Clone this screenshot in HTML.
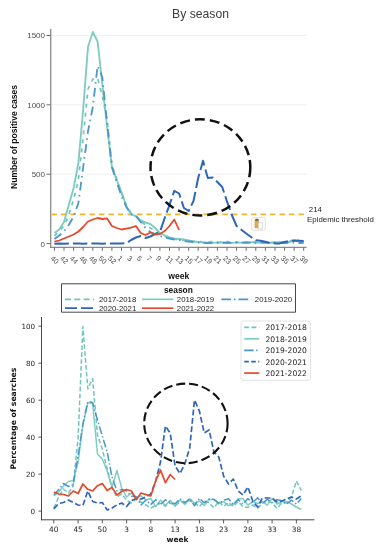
<!DOCTYPE html><html><head><meta charset="utf-8"><style>html,body{margin:0;padding:0;background:#fff;width:380px;height:550px;overflow:hidden}svg{display:block}</style></head><body><svg width="380" height="550" viewBox="0 0 380 550" stroke-linejoin="round">
<rect width="380" height="550" fill="#fff"/>
<text x="200.5" y="18" text-anchor="middle" font-family="Liberation Sans, sans-serif" font-size="12.2" fill="#3c3c3c">By season</text>
<line x1="51" y1="35.5" x2="307" y2="35.5" stroke="#ececec" stroke-width="0.8"/>
<line x1="51" y1="104.8" x2="307" y2="104.8" stroke="#ececec" stroke-width="0.8"/>
<line x1="51" y1="174.2" x2="307" y2="174.2" stroke="#ececec" stroke-width="0.8"/>
<line x1="50.7" y1="29" x2="50.7" y2="247.6" stroke="#8a8a8a" stroke-width="1.3"/>
<line x1="50" y1="247.4" x2="306.6" y2="247.4" stroke="#8a8a8a" stroke-width="1.1"/>
<line x1="46.5" y1="35.5" x2="50.5" y2="35.5" stroke="#6a6a6a" stroke-width="1"/>
<text x="45" y="38.4" text-anchor="end" font-family="Liberation Sans, sans-serif" font-size="8" fill="#4d4d4d">1500</text>
<line x1="46.5" y1="104.8" x2="50.5" y2="104.8" stroke="#6a6a6a" stroke-width="1"/>
<text x="45" y="107.8" text-anchor="end" font-family="Liberation Sans, sans-serif" font-size="8" fill="#4d4d4d">1000</text>
<line x1="46.5" y1="174.2" x2="50.5" y2="174.2" stroke="#6a6a6a" stroke-width="1"/>
<text x="45" y="177.1" text-anchor="end" font-family="Liberation Sans, sans-serif" font-size="8" fill="#4d4d4d">500</text>
<line x1="46.5" y1="243.6" x2="50.5" y2="243.6" stroke="#6a6a6a" stroke-width="1"/>
<text x="45" y="246.5" text-anchor="end" font-family="Liberation Sans, sans-serif" font-size="8" fill="#4d4d4d">0</text>
<line x1="54.4" y1="247.6" x2="54.4" y2="250.8" stroke="#6a6a6a" stroke-width="1"/>
<text transform="translate(50.0,259.0) rotate(42)" font-family="Liberation Sans, sans-serif" font-size="7.25" fill="#4d4d4d">40</text>
<line x1="64.0" y1="247.6" x2="64.0" y2="250.8" stroke="#6a6a6a" stroke-width="1"/>
<text transform="translate(59.6,259.0) rotate(42)" font-family="Liberation Sans, sans-serif" font-size="7.25" fill="#4d4d4d">42</text>
<line x1="73.6" y1="247.6" x2="73.6" y2="250.8" stroke="#6a6a6a" stroke-width="1"/>
<text transform="translate(69.2,259.0) rotate(42)" font-family="Liberation Sans, sans-serif" font-size="7.25" fill="#4d4d4d">44</text>
<line x1="83.2" y1="247.6" x2="83.2" y2="250.8" stroke="#6a6a6a" stroke-width="1"/>
<text transform="translate(78.8,259.0) rotate(42)" font-family="Liberation Sans, sans-serif" font-size="7.25" fill="#4d4d4d">46</text>
<line x1="92.8" y1="247.6" x2="92.8" y2="250.8" stroke="#6a6a6a" stroke-width="1"/>
<text transform="translate(88.4,259.0) rotate(42)" font-family="Liberation Sans, sans-serif" font-size="7.25" fill="#4d4d4d">48</text>
<line x1="102.3" y1="247.6" x2="102.3" y2="250.8" stroke="#6a6a6a" stroke-width="1"/>
<text transform="translate(97.9,259.0) rotate(42)" font-family="Liberation Sans, sans-serif" font-size="7.25" fill="#4d4d4d">50</text>
<line x1="111.9" y1="247.6" x2="111.9" y2="250.8" stroke="#6a6a6a" stroke-width="1"/>
<text transform="translate(107.5,259.0) rotate(42)" font-family="Liberation Sans, sans-serif" font-size="7.25" fill="#4d4d4d">52</text>
<line x1="121.5" y1="247.6" x2="121.5" y2="250.8" stroke="#6a6a6a" stroke-width="1"/>
<text transform="translate(117.1,259.0) rotate(42)" font-family="Liberation Sans, sans-serif" font-size="7.25" fill="#4d4d4d">1</text>
<line x1="131.1" y1="247.6" x2="131.1" y2="250.8" stroke="#6a6a6a" stroke-width="1"/>
<text transform="translate(126.7,259.0) rotate(42)" font-family="Liberation Sans, sans-serif" font-size="7.25" fill="#4d4d4d">3</text>
<line x1="140.7" y1="247.6" x2="140.7" y2="250.8" stroke="#6a6a6a" stroke-width="1"/>
<text transform="translate(136.3,259.0) rotate(42)" font-family="Liberation Sans, sans-serif" font-size="7.25" fill="#4d4d4d">5</text>
<line x1="150.3" y1="247.6" x2="150.3" y2="250.8" stroke="#6a6a6a" stroke-width="1"/>
<text transform="translate(145.9,259.0) rotate(42)" font-family="Liberation Sans, sans-serif" font-size="7.25" fill="#4d4d4d">7</text>
<line x1="159.9" y1="247.6" x2="159.9" y2="250.8" stroke="#6a6a6a" stroke-width="1"/>
<text transform="translate(155.5,259.0) rotate(42)" font-family="Liberation Sans, sans-serif" font-size="7.25" fill="#4d4d4d">9</text>
<line x1="169.5" y1="247.6" x2="169.5" y2="250.8" stroke="#6a6a6a" stroke-width="1"/>
<text transform="translate(165.1,259.0) rotate(42)" font-family="Liberation Sans, sans-serif" font-size="7.25" fill="#4d4d4d">11</text>
<line x1="179.1" y1="247.6" x2="179.1" y2="250.8" stroke="#6a6a6a" stroke-width="1"/>
<text transform="translate(174.7,259.0) rotate(42)" font-family="Liberation Sans, sans-serif" font-size="7.25" fill="#4d4d4d">13</text>
<line x1="188.7" y1="247.6" x2="188.7" y2="250.8" stroke="#6a6a6a" stroke-width="1"/>
<text transform="translate(184.3,259.0) rotate(42)" font-family="Liberation Sans, sans-serif" font-size="7.25" fill="#4d4d4d">15</text>
<line x1="198.2" y1="247.6" x2="198.2" y2="250.8" stroke="#6a6a6a" stroke-width="1"/>
<text transform="translate(193.8,259.0) rotate(42)" font-family="Liberation Sans, sans-serif" font-size="7.25" fill="#4d4d4d">17</text>
<line x1="207.8" y1="247.6" x2="207.8" y2="250.8" stroke="#6a6a6a" stroke-width="1"/>
<text transform="translate(203.4,259.0) rotate(42)" font-family="Liberation Sans, sans-serif" font-size="7.25" fill="#4d4d4d">19</text>
<line x1="217.4" y1="247.6" x2="217.4" y2="250.8" stroke="#6a6a6a" stroke-width="1"/>
<text transform="translate(213.0,259.0) rotate(42)" font-family="Liberation Sans, sans-serif" font-size="7.25" fill="#4d4d4d">21</text>
<line x1="227.0" y1="247.6" x2="227.0" y2="250.8" stroke="#6a6a6a" stroke-width="1"/>
<text transform="translate(222.6,259.0) rotate(42)" font-family="Liberation Sans, sans-serif" font-size="7.25" fill="#4d4d4d">23</text>
<line x1="236.6" y1="247.6" x2="236.6" y2="250.8" stroke="#6a6a6a" stroke-width="1"/>
<text transform="translate(232.2,259.0) rotate(42)" font-family="Liberation Sans, sans-serif" font-size="7.25" fill="#4d4d4d">25</text>
<line x1="246.2" y1="247.6" x2="246.2" y2="250.8" stroke="#6a6a6a" stroke-width="1"/>
<text transform="translate(241.8,259.0) rotate(42)" font-family="Liberation Sans, sans-serif" font-size="7.25" fill="#4d4d4d">27</text>
<line x1="255.8" y1="247.6" x2="255.8" y2="250.8" stroke="#6a6a6a" stroke-width="1"/>
<text transform="translate(251.4,259.0) rotate(42)" font-family="Liberation Sans, sans-serif" font-size="7.25" fill="#4d4d4d">29</text>
<line x1="265.4" y1="247.6" x2="265.4" y2="250.8" stroke="#6a6a6a" stroke-width="1"/>
<text transform="translate(261.0,259.0) rotate(42)" font-family="Liberation Sans, sans-serif" font-size="7.25" fill="#4d4d4d">31</text>
<line x1="275.0" y1="247.6" x2="275.0" y2="250.8" stroke="#6a6a6a" stroke-width="1"/>
<text transform="translate(270.6,259.0) rotate(42)" font-family="Liberation Sans, sans-serif" font-size="7.25" fill="#4d4d4d">33</text>
<line x1="284.6" y1="247.6" x2="284.6" y2="250.8" stroke="#6a6a6a" stroke-width="1"/>
<text transform="translate(280.2,259.0) rotate(42)" font-family="Liberation Sans, sans-serif" font-size="7.25" fill="#4d4d4d">35</text>
<line x1="294.1" y1="247.6" x2="294.1" y2="250.8" stroke="#6a6a6a" stroke-width="1"/>
<text transform="translate(289.8,259.0) rotate(42)" font-family="Liberation Sans, sans-serif" font-size="7.25" fill="#4d4d4d">37</text>
<line x1="303.7" y1="247.6" x2="303.7" y2="250.8" stroke="#6a6a6a" stroke-width="1"/>
<text transform="translate(299.3,259.0) rotate(42)" font-family="Liberation Sans, sans-serif" font-size="7.25" fill="#4d4d4d">39</text>
<text transform="translate(17.2,137) rotate(-90)" text-anchor="middle" font-family="Liberation Sans, sans-serif" font-weight="bold" font-size="8.6" fill="#111">Number of positive cases</text>
<line x1="51" y1="214.3" x2="305.6" stroke-dashoffset="-0.5" y2="214.3" stroke="#f2b628" stroke-width="1.7" stroke-dasharray="5.4,4.1"/>
<text x="308.8" y="212.4" font-family="Liberation Sans, sans-serif" font-size="7.8" fill="#1e1e1e">214</text>
<text x="307.1" y="221.5" font-family="Liberation Sans, sans-serif" font-size="7.85" fill="#1e1e1e">Epidemic threshold</text>
<polyline points="54.4,233.0 59.2,229.5 64.0,222.0 68.8,205.0 73.6,188.0 78.4,163.0 83.2,109.0 88.0,47.0 92.8,32.0 97.6,41.5 102.3,84.0 107.1,127.0 111.9,167.0 116.7,180.0 121.5,192.0 126.3,206.0 131.1,214.5 135.9,216.2 140.7,220.5 145.5,222.5 150.3,224.0 155.1,228.0 159.9,233.0 164.7,235.5 169.5,237.5 174.3,238.5 179.1,239.0 183.9,239.5 188.7,240.5 193.5,241.5 198.2,242.0 203.0,242.3 207.8,242.8 212.6,242.7 217.4,242.6 222.2,242.3 227.0,242.9 231.8,242.9 236.6,242.6 241.4,242.6 246.2,242.3 251.0,242.1 255.8,242.5 260.6,242.7 265.4,242.2 270.2,242.9 275.0,242.3 279.8,242.3 284.6,242.1 289.4,242.0 294.1,240.5 298.9,241.5 303.7,242.0" fill="none" stroke="#80ccc0" stroke-width="1.9"/>
<polyline points="54.4,236.0 59.2,231.0 64.0,226.0 68.8,215.0 73.6,199.5 78.4,180.0 83.2,137.0 88.0,89.0 92.8,79.0 97.6,78.0 102.3,96.0 107.1,120.0 111.9,165.0 116.7,179.0 121.5,193.0 126.3,205.0 131.1,213.0 135.9,216.0 140.7,221.0 145.5,225.0 150.3,228.0 155.1,231.0 159.9,234.0 164.7,236.5 169.5,238.0 174.3,239.0 179.1,240.0 183.9,240.5 188.7,241.0 193.5,241.5 198.2,240.5 203.0,242.7 207.8,241.8 212.6,241.6 217.4,242.8 222.2,241.8 227.0,241.7 231.8,242.4 236.6,242.0 241.4,242.7 246.2,241.9 251.0,242.8 255.8,242.0 260.6,242.3 265.4,242.7 270.2,242.4 275.0,242.7 279.8,242.4 284.6,241.7 289.4,241.5 294.1,239.3 298.9,240.5 303.7,241.8" fill="none" stroke="#6ec6b8" stroke-width="1.7" stroke-dasharray="4,5"/>
<polyline points="54.4,239.0 59.2,235.5 64.0,231.5 68.8,225.0 73.6,216.5 78.4,203.0 83.2,167.0 88.0,131.5 92.8,107.0 97.6,66.0 102.3,77.0 107.1,123.0 111.9,167.0 116.7,182.0 121.5,196.0 126.3,207.0 131.1,214.0 135.9,216.0 140.7,222.0 145.5,228.0 150.3,232.0 155.1,234.0 159.9,236.0 164.7,237.5 169.5,238.5 174.3,239.5 179.1,240.0 183.9,241.0 188.7,241.5 193.5,242.0 198.2,242.5 203.0,243.1 207.8,243.2 212.6,243.1 217.4,242.5 222.2,242.9 227.0,242.7 231.8,242.8 236.6,242.5 241.4,242.6 246.2,242.8 251.0,242.6 255.8,242.8 260.6,242.4 265.4,242.5 270.2,243.0 275.0,242.7 279.8,242.8 284.6,243.0 289.4,242.7 294.1,242.4 298.9,243.0 303.7,242.9" fill="none" stroke="#4a96cf" stroke-width="1.8" stroke-dasharray="8.7,4.4,1.5,4.4"/>
<polyline points="54.4,243.7 59.2,243.6 64.0,243.8 68.8,243.6 73.6,243.5 78.4,243.4 83.2,243.7 88.0,243.6 92.8,243.4 97.6,243.6 102.3,243.8 107.1,243.5 111.9,243.4 116.7,243.6 121.5,243.5 126.3,243.2 131.1,240.0 135.9,237.5 140.7,236.0 145.5,238.0 150.3,236.5 155.1,234.0 159.9,232.0 164.7,218.0 169.5,205.0 174.3,190.8 179.1,193.5 183.9,208.0 188.7,211.0 193.5,201.0 198.2,178.0 203.0,160.8 207.8,178.0 212.6,177.5 217.4,182.0 222.2,187.0 227.0,201.5 231.8,215.0 236.6,226.0 241.4,229.8 246.2,233.5 251.0,237.0 255.8,240.3 260.6,240.8 265.4,241.7 270.2,243.2 275.0,243.4 279.8,243.4 284.6,242.0 289.4,241.0 294.1,240.6 298.9,240.8 303.7,241.0" fill="none" stroke="#2f67b8" stroke-width="2" stroke-dasharray="14.5,4"/>
<polyline points="54.4,241.7 59.2,240.5 64.0,238.5 68.8,236.5 73.6,234.5 78.4,231.5 83.2,227.0 88.0,221.5 92.8,219.5 97.6,218.0 102.3,219.0 107.1,218.4 111.9,226.0 116.7,228.0 121.5,229.5 126.3,228.6 131.1,227.7 135.9,226.0 140.7,233.0 145.5,235.0 150.3,232.5 155.1,234.4 159.9,234.0 164.7,231.0 169.5,226.0 174.3,219.5 179.1,230.0" fill="none" stroke="#e8482c" stroke-width="1.8"/>
<ellipse cx="200.4" cy="167.4" rx="49.9" ry="48.1" fill="none" stroke="#111" stroke-width="2.5" stroke-dasharray="10,5"/>
<g><rect x="251.6" y="217.4" width="13.8" height="12.9" rx="1.8" fill="#fbfbfb" stroke="#dadada" stroke-width="0.8"/><rect x="254.6" y="219.6" width="4.4" height="8.6" fill="#dfa848"/><rect x="255.4" y="218.8" width="3" height="1.9" rx="0.5" fill="#5a6478"/><rect x="258.3" y="222.7" width="4" height="6.2" fill="#fff" stroke="#c4c4c4" stroke-width="0.6"/></g>
<text x="178.8" y="279" text-anchor="middle" font-family="Liberation Sans, sans-serif" font-weight="bold" font-size="8.6" fill="#111">week</text>
<rect x="61.5" y="283.8" width="234" height="28.4" fill="#fff" stroke="#333" stroke-width="0.9"/>
<text x="178.4" y="292.8" text-anchor="middle" font-family="Liberation Sans, sans-serif" font-weight="bold" font-size="8.4" fill="#111">season</text>
<line x1="65" y1="299.3" x2="94" y2="299.3" stroke="#6ec6b8" stroke-width="1.7" stroke-dasharray="6,3.3"/>
<text x="99" y="302.1" font-family="Liberation Sans, sans-serif" font-size="7.8" fill="#262626">2017-2018</text>
<line x1="142" y1="299.3" x2="173.3" y2="299.3" stroke="#80ccc0" stroke-width="1.7"/>
<text x="176.8" y="302.1" font-family="Liberation Sans, sans-serif" font-size="7.8" fill="#262626">2018-2019</text>
<line x1="221.3" y1="299.3" x2="250" y2="299.3" stroke="#4a96cf" stroke-width="1.7" stroke-dasharray="9.7,3,1.5,3"/>
<text x="254.8" y="302.1" font-family="Liberation Sans, sans-serif" font-size="7.8" fill="#262626">2019-2020</text>
<line x1="65" y1="308.2" x2="94" y2="308.2" stroke="#2f67b8" stroke-width="1.8" stroke-dasharray="12,4"/>
<text x="99" y="311" font-family="Liberation Sans, sans-serif" font-size="7.8" fill="#262626">2020-2021</text>
<line x1="142" y1="308.2" x2="173.3" y2="308.2" stroke="#e8482c" stroke-width="1.7"/>
<text x="176.8" y="311" font-family="Liberation Sans, sans-serif" font-size="7.8" fill="#262626">2021-2022</text>
<line x1="41.5" y1="317" x2="41.5" y2="520.2" stroke="#333" stroke-width="0.9"/>
<line x1="41" y1="519.8" x2="314.4" y2="519.8" stroke="#333" stroke-width="0.9"/>
<line x1="38.4" y1="511.1" x2="41.5" y2="511.1" stroke="#333" stroke-width="0.8"/>
<text x="35.1" y="513.8" text-anchor="end" font-family="DejaVu Sans, sans-serif" font-size="7.2" fill="#262626">0</text>
<line x1="38.4" y1="474.1" x2="41.5" y2="474.1" stroke="#333" stroke-width="0.8"/>
<text x="35.1" y="476.8" text-anchor="end" font-family="DejaVu Sans, sans-serif" font-size="7.2" fill="#262626">20</text>
<line x1="38.4" y1="437.1" x2="41.5" y2="437.1" stroke="#333" stroke-width="0.8"/>
<text x="35.1" y="439.8" text-anchor="end" font-family="DejaVu Sans, sans-serif" font-size="7.2" fill="#262626">40</text>
<line x1="38.4" y1="400.2" x2="41.5" y2="400.2" stroke="#333" stroke-width="0.8"/>
<text x="35.1" y="402.9" text-anchor="end" font-family="DejaVu Sans, sans-serif" font-size="7.2" fill="#262626">60</text>
<line x1="38.4" y1="363.2" x2="41.5" y2="363.2" stroke="#333" stroke-width="0.8"/>
<text x="35.1" y="365.9" text-anchor="end" font-family="DejaVu Sans, sans-serif" font-size="7.2" fill="#262626">80</text>
<line x1="38.4" y1="326.2" x2="41.5" y2="326.2" stroke="#333" stroke-width="0.8"/>
<text x="35.1" y="328.9" text-anchor="end" font-family="DejaVu Sans, sans-serif" font-size="7.2" fill="#262626">100</text>
<line x1="53.8" y1="519.8" x2="53.8" y2="523.4" stroke="#333" stroke-width="0.8"/>
<text x="53.8" y="531.9" text-anchor="middle" font-family="DejaVu Sans, sans-serif" font-size="7.4" fill="#262626">40</text>
<line x1="78.1" y1="519.8" x2="78.1" y2="523.4" stroke="#333" stroke-width="0.8"/>
<text x="78.1" y="531.9" text-anchor="middle" font-family="DejaVu Sans, sans-serif" font-size="7.4" fill="#262626">45</text>
<line x1="102.3" y1="519.8" x2="102.3" y2="523.4" stroke="#333" stroke-width="0.8"/>
<text x="102.3" y="531.9" text-anchor="middle" font-family="DejaVu Sans, sans-serif" font-size="7.4" fill="#262626">50</text>
<line x1="126.6" y1="519.8" x2="126.6" y2="523.4" stroke="#333" stroke-width="0.8"/>
<text x="126.6" y="531.9" text-anchor="middle" font-family="DejaVu Sans, sans-serif" font-size="7.4" fill="#262626">3</text>
<line x1="150.8" y1="519.8" x2="150.8" y2="523.4" stroke="#333" stroke-width="0.8"/>
<text x="150.8" y="531.9" text-anchor="middle" font-family="DejaVu Sans, sans-serif" font-size="7.4" fill="#262626">8</text>
<line x1="175.1" y1="519.8" x2="175.1" y2="523.4" stroke="#333" stroke-width="0.8"/>
<text x="175.1" y="531.9" text-anchor="middle" font-family="DejaVu Sans, sans-serif" font-size="7.4" fill="#262626">13</text>
<line x1="199.4" y1="519.8" x2="199.4" y2="523.4" stroke="#333" stroke-width="0.8"/>
<text x="199.4" y="531.9" text-anchor="middle" font-family="DejaVu Sans, sans-serif" font-size="7.4" fill="#262626">18</text>
<line x1="223.6" y1="519.8" x2="223.6" y2="523.4" stroke="#333" stroke-width="0.8"/>
<text x="223.6" y="531.9" text-anchor="middle" font-family="DejaVu Sans, sans-serif" font-size="7.4" fill="#262626">23</text>
<line x1="247.9" y1="519.8" x2="247.9" y2="523.4" stroke="#333" stroke-width="0.8"/>
<text x="247.9" y="531.9" text-anchor="middle" font-family="DejaVu Sans, sans-serif" font-size="7.4" fill="#262626">28</text>
<line x1="272.1" y1="519.8" x2="272.1" y2="523.4" stroke="#333" stroke-width="0.8"/>
<text x="272.1" y="531.9" text-anchor="middle" font-family="DejaVu Sans, sans-serif" font-size="7.4" fill="#262626">33</text>
<line x1="296.4" y1="519.8" x2="296.4" y2="523.4" stroke="#333" stroke-width="0.8"/>
<text x="296.4" y="531.9" text-anchor="middle" font-family="DejaVu Sans, sans-serif" font-size="7.4" fill="#262626">38</text>
<text transform="translate(16.1,418.6) rotate(-90)" text-anchor="middle" font-family="DejaVu Sans, sans-serif" font-weight="bold" font-size="7.7" fill="#111">Percentage of searches</text>
<text x="177.5" y="542.3" text-anchor="middle" font-family="DejaVu Sans, sans-serif" font-weight="bold" font-size="7.5" fill="#111">week</text>
<polyline points="53.8,496.0 58.7,492.0 63.5,486.0 68.4,481.5 73.2,480.5 78.1,462.0 82.9,425.0 87.8,403.0 92.6,403.0 97.5,454.0 102.3,459.0 107.2,471.0 112.0,487.0 116.9,470.5 121.7,488.0 126.6,497.0 131.4,493.0 136.3,497.0 141.1,496.0 146.0,500.0 150.8,498.5 155.7,506.6 160.5,500.1 165.4,505.6 170.2,500.2 175.1,506.4 180.0,500.1 184.8,504.4 189.7,498.5 194.5,503.2 199.4,501.0 204.2,505.5 209.1,499.3 213.9,499.7 218.8,503.9 223.6,501.6 228.5,505.6 233.3,504.5 238.2,498.8 243.0,498.8 247.9,505.1 252.7,501.6 257.6,503.5 262.4,501.7 267.3,505.1 272.1,498.2 277.0,504.0 281.8,501.8 286.7,501.4 291.5,504.0 296.4,507.0 301.3,509.5" fill="none" stroke="#80ccc0" stroke-width="1.5"/>
<polyline points="53.8,508.0 58.7,497.0 63.5,489.0 68.4,493.0 73.2,486.0 78.1,438.0 82.9,326.5 87.8,389.0 92.6,378.5 97.5,435.0 102.3,449.0 107.2,469.0 112.0,488.0 116.9,497.0 121.7,494.0 126.6,500.0 131.4,503.0 136.3,499.0 141.1,502.0 146.0,505.0 150.8,508.0 155.7,505.5 160.5,503.3 165.4,506.2 170.2,503.1 175.1,505.3 180.0,502.1 184.8,502.0 189.7,500.6 194.5,502.8 199.4,506.5 204.2,501.2 209.1,502.8 213.9,507.9 218.8,501.4 223.6,506.4 228.5,502.4 233.3,506.2 238.2,501.6 243.0,506.6 247.9,507.4 252.7,505.0 257.6,508.2 262.4,503.3 267.3,500.4 272.1,502.9 277.0,508.3 281.8,503.0 286.7,503.0 291.5,497.0 296.4,481.0 301.3,490.5" fill="none" stroke="#6ec6b8" stroke-width="1.5" stroke-dasharray="4.6,2.3"/>
<polyline points="53.8,495.0 58.7,489.5 63.5,483.5 68.4,486.5 73.2,484.5 78.1,456.0 82.9,424.0 87.8,401.5 92.6,402.5 97.5,420.0 102.3,436.0 107.2,452.0 112.0,477.0 116.9,491.0 121.7,489.5 126.6,491.0 131.4,496.0 136.3,497.0 141.1,505.0 146.0,500.0 150.8,504.4 155.7,499.9 160.5,504.7 165.4,499.8 170.2,502.5 175.1,503.8 180.0,498.6 184.8,502.8 189.7,498.7 194.5,505.8 199.4,498.4 204.2,502.8 209.1,499.2 213.9,499.3 218.8,503.2 223.6,500.4 228.5,498.7 233.3,504.5 238.2,499.5 243.0,504.2 247.9,498.6 252.7,502.9 257.6,497.7 262.4,503.6 267.3,499.3 272.1,502.7 277.0,499.7 281.8,500.8 286.7,504.0 291.5,500.2 296.4,504.0 301.3,498.4" fill="none" stroke="#4a96cf" stroke-width="1.5" stroke-dasharray="8,2.3,1.4,2.3"/>
<polyline points="53.8,508.8 58.7,503.5 63.5,502.5 68.4,500.0 73.2,502.5 78.1,505.0 82.9,505.5 87.8,491.0 92.6,501.5 97.5,503.0 102.3,502.5 107.2,510.0 112.0,508.0 116.9,505.0 121.7,503.0 126.6,506.5 131.4,500.5 136.3,498.5 141.1,499.0 146.0,497.0 150.8,494.0 155.7,481.0 160.5,462.0 165.4,426.0 170.2,433.0 175.1,466.0 180.0,473.5 184.8,464.0 189.7,448.0 194.5,400.0 199.4,411.0 204.2,433.0 209.1,430.0 213.9,452.0 218.8,457.0 223.6,476.0 228.5,484.0 233.3,479.0 238.2,491.0 243.0,495.0 247.9,487.0 252.7,501.0 257.6,507.0 262.4,498.0 267.3,498.0 272.1,498.0 277.0,502.0 281.8,501.0 286.7,499.0 291.5,497.0 296.4,499.0 301.3,495.8" fill="none" stroke="#2f67b8" stroke-width="1.7" stroke-dasharray="5.8,2.6"/>
<polyline points="53.8,492.0 58.7,494.0 63.5,494.5 68.4,496.0 73.2,491.0 78.1,493.5 82.9,484.0 87.8,489.3 92.6,491.0 97.5,485.7 102.3,483.4 107.2,490.5 112.0,487.4 116.9,495.0 121.7,491.5 126.6,489.5 131.4,491.0 136.3,499.5 141.1,493.0 146.0,494.6 150.8,496.0 155.7,481.0 160.5,470.0 165.4,482.6 170.2,474.5 175.1,479.5" fill="none" stroke="#e8482c" stroke-width="1.7"/>
<ellipse cx="185.9" cy="423.4" rx="41.7" ry="39.8" fill="none" stroke="#111" stroke-width="2.1" stroke-dasharray="9,4"/>
<rect x="241" y="321" width="69.5" height="59.3" rx="2" fill="#fff" fill-opacity="0.8" stroke="#dcdcdc" stroke-width="0.8"/>
<line x1="244.2" y1="327.4" x2="259.3" y2="327.4" stroke="#6ec6b8" stroke-width="1.7" stroke-dasharray="4.8,2.6"/>
<text x="265.5" y="330.2" font-family="DejaVu Sans, sans-serif" font-size="7.6" fill="#1c1c1c">2017-2018</text>
<line x1="244.2" y1="338.8" x2="259.3" y2="338.8" stroke="#80ccc0" stroke-width="1.7"/>
<text x="265.5" y="341.6" font-family="DejaVu Sans, sans-serif" font-size="7.6" fill="#1c1c1c">2018-2019</text>
<line x1="244.2" y1="350.3" x2="259.3" y2="350.3" stroke="#4a96cf" stroke-width="1.7" stroke-dasharray="9.5,2.5,1.4,2.5"/>
<text x="265.5" y="353.1" font-family="DejaVu Sans, sans-serif" font-size="7.6" fill="#1c1c1c">2019-2020</text>
<line x1="244.2" y1="361.7" x2="259.3" y2="361.7" stroke="#2f67b8" stroke-width="1.7" stroke-dasharray="4.6,2.4"/>
<text x="265.5" y="364.5" font-family="DejaVu Sans, sans-serif" font-size="7.6" fill="#1c1c1c">2020-2021</text>
<line x1="244.2" y1="373.1" x2="259.3" y2="373.1" stroke="#e8482c" stroke-width="1.7"/>
<text x="265.5" y="375.90000000000003" font-family="DejaVu Sans, sans-serif" font-size="7.6" fill="#1c1c1c">2021-2022</text>
</svg></body></html>
